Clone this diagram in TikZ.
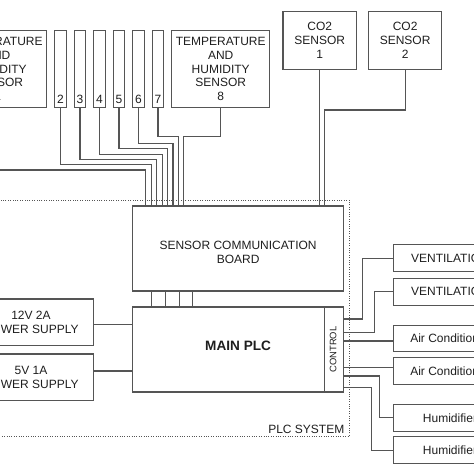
\documentclass[tikz,border=0pt]{standalone}
\usepackage{fontspec}
\setmainfont{Liberation Sans}
\usetikzlibrary{positioning}
\definecolor{linegray}{HTML}{555555}
\definecolor{textgray}{HTML}{1E1E1E}

\begin{document}
\begin{tikzpicture}[
      x=1pt, y=-1pt,
      unit/.style={
         rectangle,
         draw=linegray,
         line width=1.1pt,
         text=textgray,
         align=center,
         inner sep=1pt,
         font=\fontsize{12}{13.8}\selectfont
      },
      sensor/.style={unit, minimum width=98pt, minimum height=76.6pt},
      probe/.style={unit, minimum width=11.5pt, minimum height=76.6pt},
      gas/.style={unit, minimum width=73.6pt, minimum height=57.6pt},
      pcb/.style={unit, minimum width=210.8pt, minimum height=85pt},
      supply/.style={unit, minimum width=125.4pt, minimum height=46.7pt},
      actuator/.style={unit, minimum width=113.4pt, minimum height=26.8pt},
      digit/.style={anchor=south, inner sep=4pt, text=textgray,
         font=\fontsize{12}{13.8}\selectfont},
      pcbtext/.style={anchor=center, align=center, inner sep=0pt, yshift=-4pt,
         text=textgray, font=\fontsize{12}{13.8}\selectfont},
      wire/.style={draw=linegray, line width=1.1pt},
      sysframe/.style={draw=linegray, line width=0.9pt, dash pattern=on 1pt off 1.4pt},
      node distance=6.9pt
    ]
    \useasboundingbox (0,0) rectangle (474,474);
    \clip (0,0) rectangle (474,474);

    % sensors
    \node[sensor] (th1) at (-2.3,69) {TEMPERATURE\\AND\\HUMIDITY\\SENSOR\\1};
    \foreach \n/\prev in {2/th1,3/s2,4/s3,5/s4,6/s5,7/s6}
      \node[probe, right=of \prev, label={[digit]south:\n}] (s\n) {};
    \node[sensor, right=of s7] (s8) {TEMPERATURE\\AND\\HUMIDITY\\SENSOR\\8};
    \node[gas] (co1) at (319.8,40.5) {CO2\\SENSOR\\1};
    \node[gas, right=10.6pt of co1] (co2) {CO2\\SENSOR\\2};

    % plc system
    \node[pcb, label={[pcbtext]center:SENSOR COMMUNICATION\\BOARD}] (board) at (238.1,248.5) {};
    \node[pcb, below=14.9pt of board, text depth=7pt,
          font=\fontsize{13.6}{15}\selectfont\bfseries] (plc) {MAIN PLC};
    \draw[wire] ([xshift=-19.5pt]plc.north east) -- ([xshift=-19.5pt]plc.south east);
    \node[rotate=90, text=textgray, font=\fontsize{9.4}{10}\selectfont]
          (ctrl) at ([xshift=-11pt]plc.east) {CONTROL};
    \draw[sysframe] (-10,200.7) rectangle (349.7,436);
    \node[anchor=base east, inner sep=0pt, text=textgray,
          font=\fontsize{12}{13.8}\selectfont] (sysname) at (344.5,433.3) {PLC SYSTEM};

    % power
    \node[supply] (ps12) at (31,322.3) {12V 2A\\POWER SUPPLY};
    \node[supply, below=7.2pt of ps12] (ps5) {5V 1A\\POWER SUPPLY};

    % outputs
    \node[actuator] (vent1) at (450,258.3) {VENTILATION};
    \node[actuator, below=5.5pt of vent1] (vent2) {VENTILATION};
    \node[actuator, below=18.9pt of vent2] (ac1) {Air Conditioner};
    \node[actuator, below=4.6pt of ac1] (ac2) {Air Conditioner};
    \node[actuator, below=18.9pt of ac2] (hum1) {Humidifier};
    \node[actuator, below=4.6pt of hum1] (hum2) {Humidifier};

    % sensor bus
    \foreach \i in {1,...,8}
      \coordinate (bus\i) at ([xshift={13.5pt+(\i-1)*5.47pt}]board.north west);
    \foreach \s/\lev/\i in {th1/170/1, s2/164.7/2, s3/159.4/3, s4/154.1/4,
                            s5/148.8/5, s6/143.5/6, s7/136.7/7, s8/136.7/8}
      \draw[wire] (\s.south) |- (bus\i |- 0,\lev) -- (bus\i);
    \coordinate (bus9) at (co1.south |- board.north);
    \coordinate (bus10) at ([xshift=5pt]bus9);
    \draw[wire] (co1.south) -- (bus9);
    \draw[wire] (co2.south) |- (bus10 |- 0,110) -- (bus10);

    % board to plc
    \foreach \dx in {19.5,33.2,46.9,60.5}
      \draw[wire] ([xshift=\dx pt]board.south west) -- ([xshift=\dx pt]plc.north west);

    % supplies to plc
    \coordinate (pin12) at ([yshift=-2pt]ps12.east);
    \coordinate (pin5) at ([yshift=6.3pt]ps5.east);
    \draw[wire] (pin12) -- (pin12 -| plc.west);
    \draw[wire] (pin5) -- (pin5 -| plc.west);

    % control lines
    \foreach \k/\dy in {1/30.5, 2/17.2, 3/8.5, 4/-18.2, 5/-26.5, 6/-37.8}
      \coordinate (out\k) at ([yshift=\dy pt]plc.east);
    \draw[wire] (out1) -- ++(18.6,0) |- (vent1.west);
    \draw[wire] (out2) -- ++(30.3,0) |- (vent2.west);
    \draw[wire] (out3) -- (out3 -| ac1.west);
    \draw[wire] (out4) -- (out4 -| ac2.west);
    \draw[wire] (out5) -- ++(35.6,0) |- (hum1.west);
    \draw[wire] (out6) -- ++(27,0) |- (hum2.west);
\end{tikzpicture}
\end{document}
